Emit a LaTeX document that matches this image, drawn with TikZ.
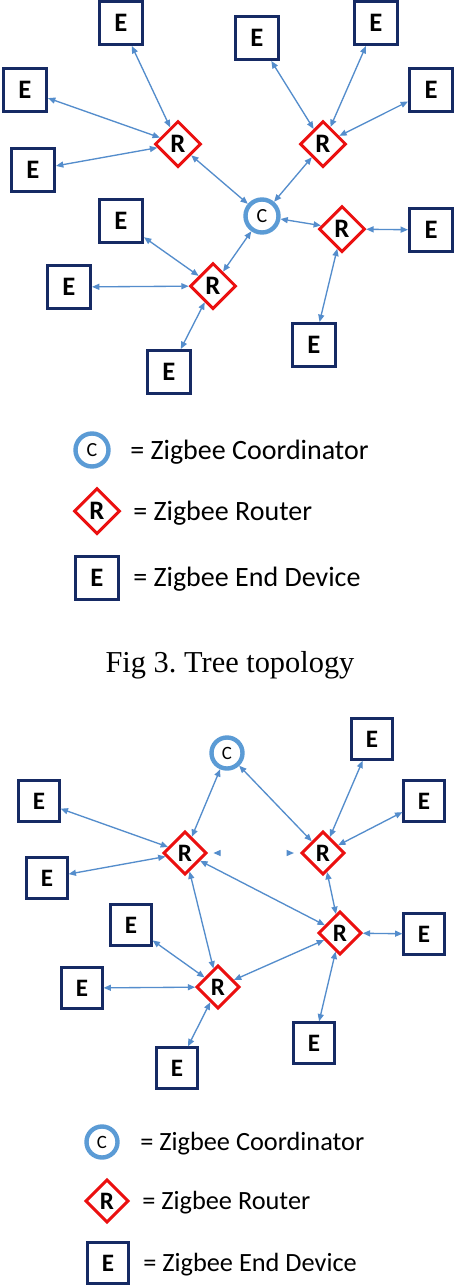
\documentclass[tikz,border=0pt]{standalone}
\usepackage{fontspec}
\setmainfont{Carlito}
\newfontfamily\capfont{Liberation Serif}
\usetikzlibrary{shapes.geometric,arrows.meta}
\definecolor{linkblue}{RGB}{84,141,204}
\definecolor{ringblue}{RGB}{91,155,213}
\definecolor{navy}{RGB}{22,42,100}
\definecolor{routerred}{RGB}{235,16,16}
\tikzset{
    enddev/.style={draw=navy,line width=2.25pt,minimum size=32.25pt,inner sep=0pt,font=\bfseries\fontsize{20}{20}\selectfont},
    router/.style={diamond,draw=routerred,line width=2.25pt,minimum size=34.5pt,inner sep=0pt,font=\bfseries\fontsize{20}{20}\selectfont},
    coord/.style={circle,draw=ringblue,line width=3.3pt,minimum size=24.75pt,inner sep=0pt,font=\fontsize{15}{15}\selectfont},
    link/.style={draw=linkblue,line width=1pt,{Triangle[length=5.5pt,width=4.5pt]}-{Triangle[length=5.5pt,width=4.5pt]}},
    ghost/.style={link,dash pattern=on 0pt off 2000pt,line cap=butt,shorten <=4pt,shorten >=4.5pt},
    legend/.style={anchor=base west,inner sep=0pt,font=\fontsize{21}{21}\selectfont}
}
\begin{document}
\begin{tikzpicture}[x=0.75pt,y=-0.75pt]
    \fill[white] (0,0) rectangle (456,1286);
    \useasboundingbox (0,0) rectangle (456,1286);

    % tree topology
    \node[coord] (tc) at (262,216) {C};
    \node[router] (tr1) at (178,144) {R};
    \node[router] (tr2) at (323,144) {R};
    \node[router] (tr3) at (342,229) {R};
    \node[router] (tr4) at (213,286) {R};
    \node[enddev] (te1) at (121,23) {E};
    \node[enddev] (te2) at (257,38) {E};
    \node[enddev] (te3) at (376,23) {E};
    \node[enddev] (te4) at (25,90) {E};
    \node[enddev] (te5) at (431,90) {E};
    \node[enddev] (te6) at (33,170) {E};
    \node[enddev] (te7) at (121,221) {E};
    \node[enddev] (te8) at (431,230) {E};
    \node[enddev] (te9) at (69,287) {E};
    \node[enddev] (te10) at (314,345) {E};
    \node[enddev] (te11) at (169,372) {E};

    \draw[link] (te1) -- (tr1);
    \draw[link] (te4) -- (tr1);
    \draw[link] (te6) -- (tr1);
    \draw[link] (tr1) -- (tc);
    \draw[link] (te2) -- (tr2);
    \draw[link] (te3) -- (tr2);
    \draw[link] (te5) -- (tr2);
    \draw[link] (tr2) -- (tc);
    \draw[link] (tc) -- (tr3);
    \draw[link] (tr3) -- (te8);
    \draw[link] (tr3) -- (te10);
    \draw[link] (tc) -- (tr4);
    \draw[link] (te7) -- (tr4);
    \draw[link] (te9) -- (tr4);
    \draw[link] (te11) -- (tr4);

    \node[coord] (tlc) at (92,450) {C};
    \node[legend] (tlct) at (130,459) {= Zigbee Coordinator};
    \node[router] (tlr) at (97,511) {R};
    \node[legend] (tlrt) at (133,520) {= Zigbee Router};
    \node[enddev] (tle) at (97,578) {E};
    \node[legend] (tlet) at (133,586) {= Zigbee End Device};

    \node[anchor=base,inner sep=0pt,font=\capfont\fontsize{22.8}{22.8}\selectfont] (cap) at (230,672) {Fig 3.\ Tree topology};

    % mesh topology
    \begin{scope}[every node/.append style={scale=0.94}]
        \node[coord] (bc) at (227,753) {C};
        \node[router] (br1) at (185,853) {R};
        \node[router] (br2) at (323,853) {R};
        \node[router] (br3) at (340,933) {R};
        \node[router] (br4) at (218,987) {R};
        \node[enddev] (be1) at (372,739) {E};
        \node[enddev] (be2) at (39,801) {E};
        \node[enddev] (be3) at (424,801) {E};
        \node[enddev] (be4) at (47,878) {E};
        \node[enddev] (be5) at (131,925) {E};
        \node[enddev] (be6) at (424,934) {E};
        \node[enddev] (be7) at (82,988) {E};
        \node[enddev] (be8) at (177,1068) {E};
        \node[enddev] (be9) at (314,1043) {E};

        \draw[link] (bc) -- (br1);
        \draw[link] (bc) -- (br2);
        \draw[link] (be1) -- (br2);
        \draw[link] (be3) -- (br2);
        \draw[link] (be2) -- (br1);
        \draw[link] (be4) -- (br1);
        \draw[ghost] (br1) -- (br2);
        \draw[link] (br1) -- (br3);
        \draw[link] (br1) -- (br4);
        \draw[link] (br2) -- (br3);
        \draw[link] (br3) -- (be6);
        \draw[link] (br3) -- (br4);
        \draw[link] (br3) -- (be9);
        \draw[link] (be5) -- (br4);
        \draw[link] (be7) -- (br4);
        \draw[link] (br4) -- (be8);

        \node[coord] (blc) at (102,1142) {C};
        \node[legend] (blct) at (140,1150.5) {= Zigbee Coordinator};
        \node[router] (blr) at (107,1201) {R};
        \node[legend] (blrt) at (142,1209.5) {= Zigbee Router};
        \node[enddev] (ble) at (108,1263) {E};
        \node[legend] (blet) at (143,1271.5) {= Zigbee End Device};
    \end{scope}
\end{tikzpicture}
\end{document}
